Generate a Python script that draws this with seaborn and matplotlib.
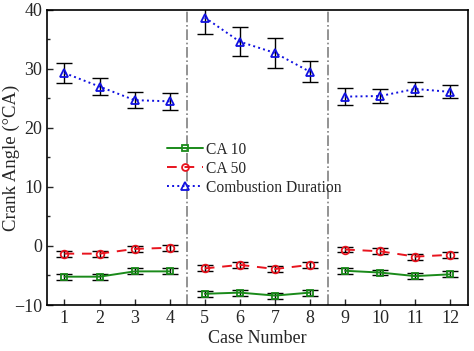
import numpy as np
import matplotlib
matplotlib.use('Agg')
import matplotlib.pyplot as plt
import seaborn as sns
import pandas as pd

# ================= DADOS =================
casos = list(range(1, 13))
grupos = [1, 1, 1, 1, 2, 2, 2, 2, 3, 3, 3, 3]

ca10 = [-5.2, -5.2, -4.3, -4.3, -8.1, -7.9, -8.4, -7.9, -4.2, -4.5, -5.1, -4.8]
ca10_err = [0.5, 0.5, 0.5, 0.5, 0.5, 0.5, 0.5, 0.5, 0.5, 0.5, 0.5, 0.5]

ca50 = [-1.3, -1.3, -0.5, -0.3, -3.8, -3.2, -3.9, -3.2, -0.6, -0.9, -1.8, -1.5]
ca50_err = [0.5, 0.5, 0.5, 0.5, 0.5, 0.5, 0.5, 0.5, 0.5, 0.5, 0.5, 0.5]

duracao = [29.3, 27.0, 24.7, 24.5, 38.7, 34.6, 32.7, 29.5, 25.3, 25.4, 26.6, 26.1]
duracao_err = [1.7, 1.5, 1.3, 1.4, 2.8, 2.5, 2.5, 1.8, 1.5, 1.2, 1.2, 1.1]

separadores = [4.5, 8.5]

# ================= FIGURA =================
sns.set_style('ticks')
plt.rcParams['font.family'] = ['Liberation Serif', 'DejaVu Serif']

fig = plt.figure(figsize=(4.74, 3.51), dpi=100)
ax = fig.add_axes([0.099, 0.131, 0.888, 0.841])

df = pd.DataFrame({'Case': casos, 'Grupo': grupos,
                   'CA10': ca10, 'CA50': ca50, 'Dur': duracao})

series = [
    ('CA10', ca10_err, 'CA 10', '#1a8a1a', '-', 's', 5.0),
    ('CA50', ca50_err, 'CA 50', '#e8141e', (0, (5, 4)), 'o', 5.5),
    ('Dur', duracao_err, 'Combustion Duration', '#1010e0', ':', '^', 6.0),
]

for col, err, rotulo, cor, estilo, marcador, tam in series:
    ax.errorbar(df['Case'], df[col], yerr=err, fmt='none', ecolor='black',
                elinewidth=1.0, capsize=6, capthick=1.0, zorder=2)
    for i, (g, sub) in enumerate(df.groupby('Grupo')):
        sns.lineplot(data=sub, x='Case', y=col, ax=ax, color=cor, linestyle=estilo,
                     linewidth=1.4, marker=marcador, markersize=tam,
                     markerfacecolor='none', markeredgecolor=cor, markeredgewidth=1.3,
                     label=rotulo if i == 0 else None, zorder=3)

for xs in separadores:
    ax.axvline(xs, color='#808080', linestyle='-.', linewidth=1.2, zorder=1)

ax.set_xlim(0.5, 12.5)
ax.set_ylim(-10, 40)
ax.set_xticks(casos)
ax.set_yticks([-10, 0, 10, 20, 30, 40])
ax.set_yticks(np.arange(-5, 40, 10), minor=True)
ax.tick_params(axis='both', direction='in', labelsize=13, length=4, width=1)
ax.tick_params(axis='y', which='minor', direction='in', length=2.5, width=1)
for s in ax.spines.values():
    s.set_linewidth(1.2)
    s.set_color('black')

ax.set_xlabel('Case Number', fontsize=13, labelpad=2)
ax.set_ylabel('Crank Angle (\u00b0CA)', fontsize=13.5)
ax.yaxis.set_label_coords(-0.065, 0.5)

ax.legend(loc='upper left', bbox_to_anchor=(0.27, 0.575), frameon=False,
          fontsize=11.2, handlelength=2.3, handletextpad=0.2, labelspacing=0.2,
          borderaxespad=0, markerscale=0.9)

fig.savefig('out.png', dpi=100)
